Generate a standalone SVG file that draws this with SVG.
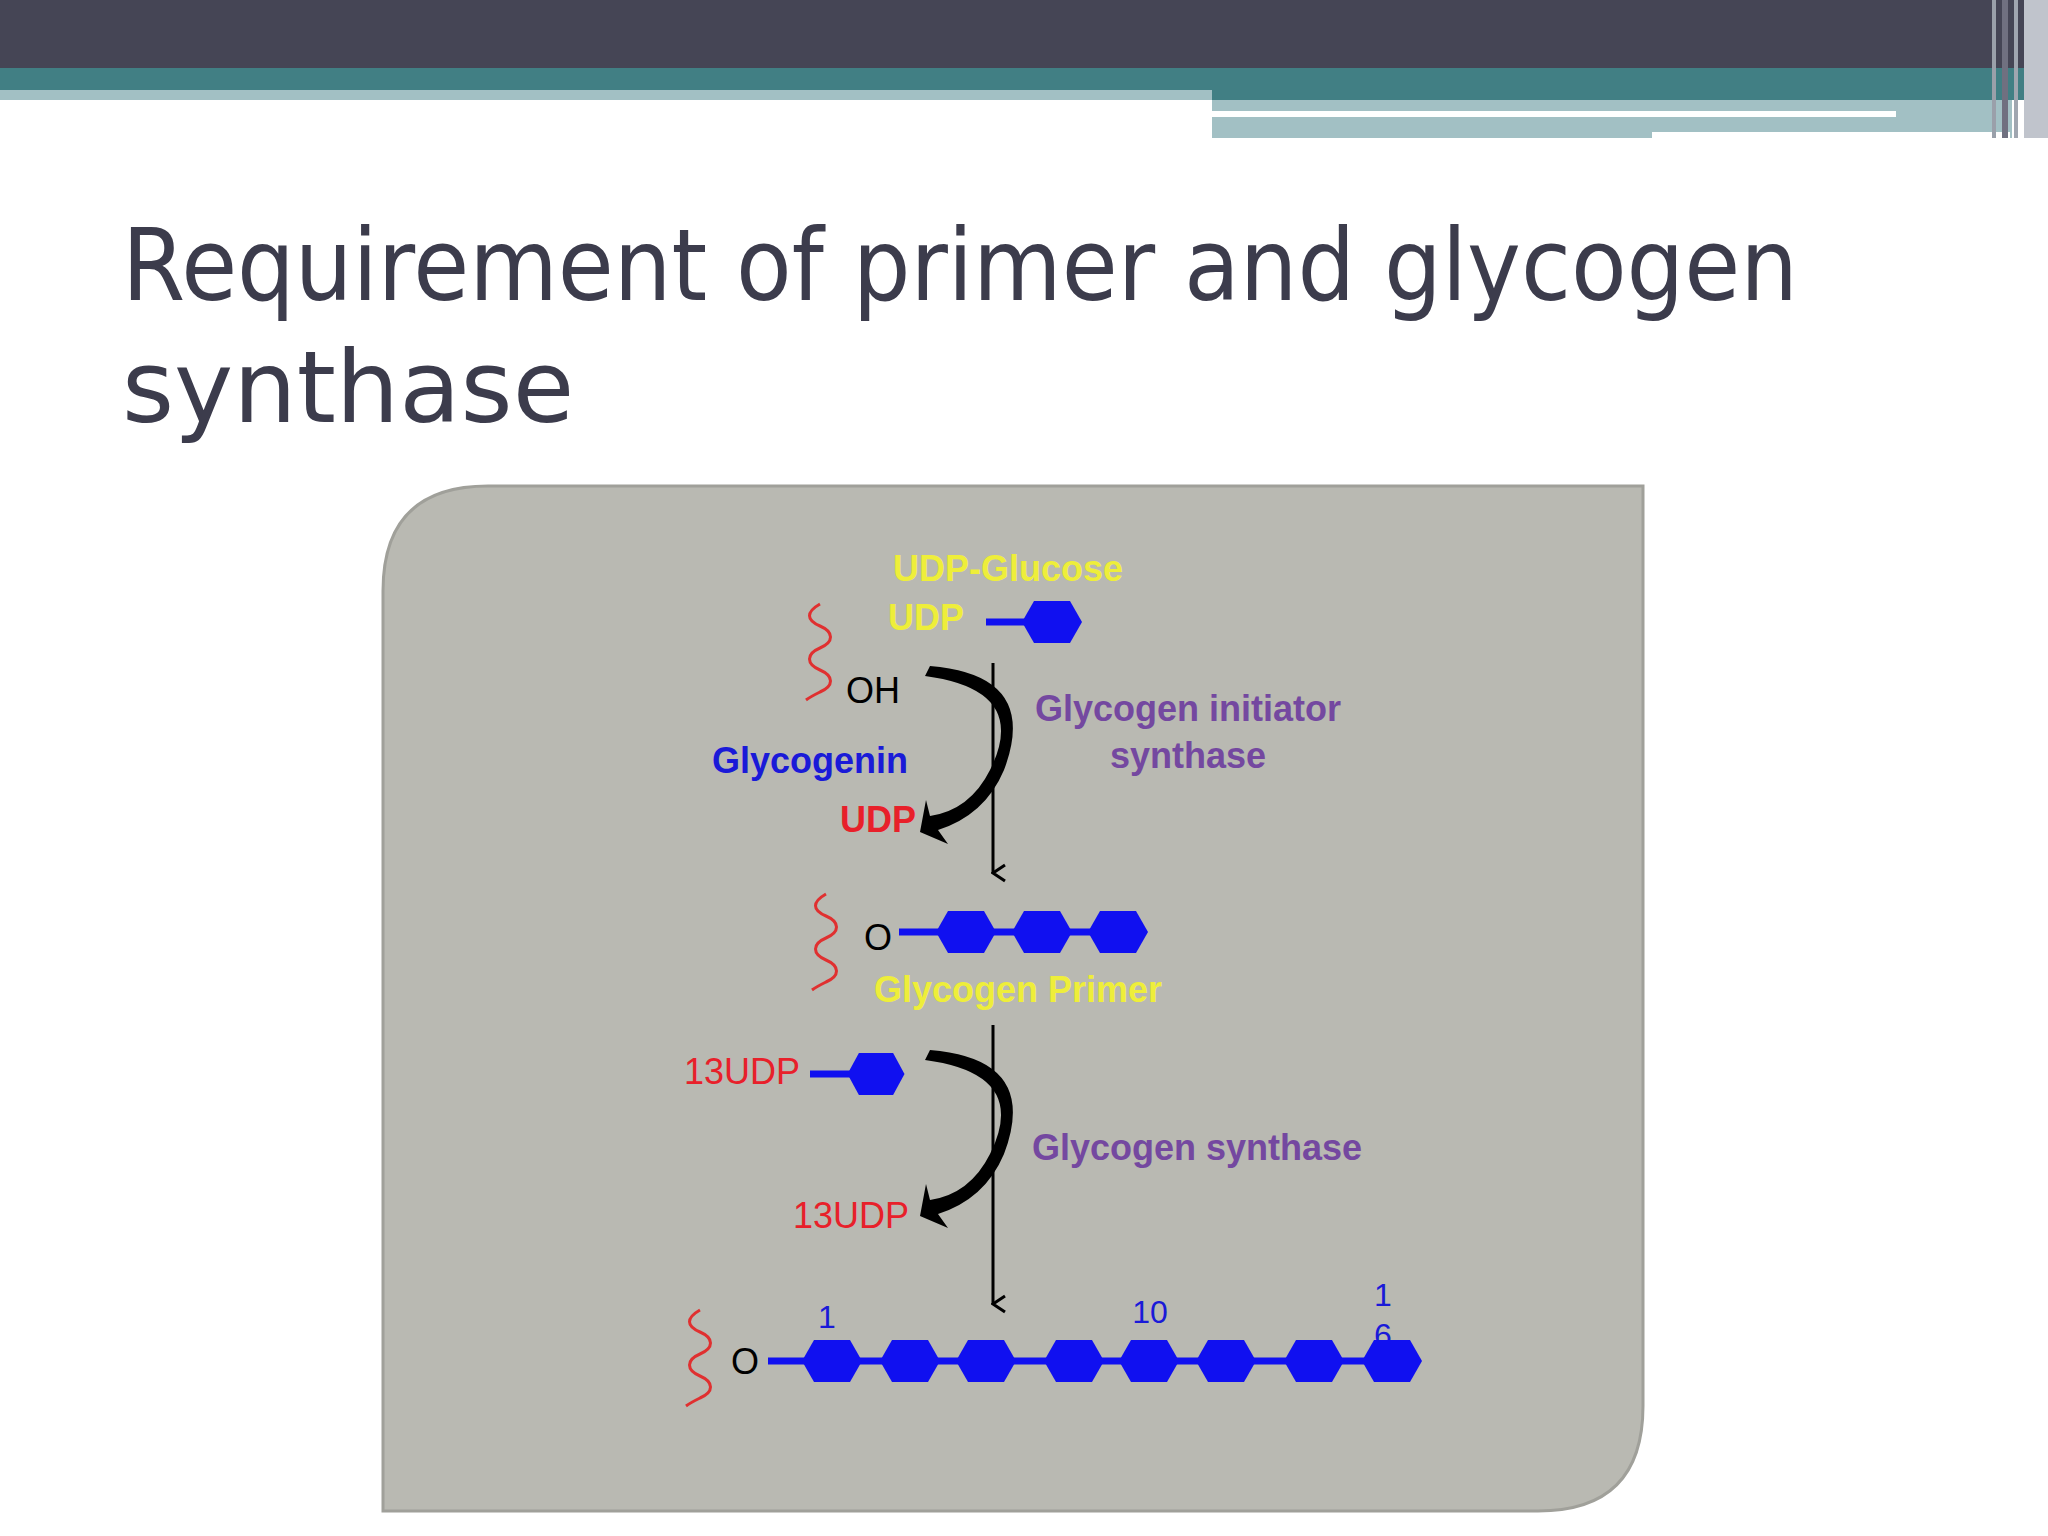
<svg xmlns="http://www.w3.org/2000/svg" width="2048" height="1536" viewBox="0 0 2048 1536">
<defs>
<style>
.t{font-family:"Liberation Sans",Arial,sans-serif}
.b{font-weight:bold}
.y{fill:#eeee3a}
.p{fill:#7448a0}
.r{fill:#e8202a}
.bl{fill:#1a1ad8}
.sq{fill:none;stroke:#e03030;stroke-width:3}
.ch{stroke:#1010f0;stroke-width:7;fill:none}
.hx{fill:#1010f0}
</style>
<marker id="ah" viewBox="0 0 20 20" refX="10" refY="18" markerWidth="20" markerHeight="20" markerUnits="userSpaceOnUse" orient="auto-start-reverse">
<path d="M2,6 L10,18 L18,6" fill="none" stroke="#000" stroke-width="3"/>
</marker>
<polygon id="hex" points="-30,0 -18,-21 18,-21 30,0 18,21 -18,21"/>
<path id="wig" d="M0,0 c-14,8 -14,16 0,22 c14,6 14,16 0,22 c-14,6 -14,16 0,22 c14,6 14,16 0,22 c-6,3 -10,5 -14,8"/>
</defs>
<rect width="2048" height="1536" fill="#ffffff"/>
<g id="header">
<rect x="0" y="0" width="2048" height="68" fill="#454555"/>
<rect x="0" y="68" width="2048" height="32" fill="#417f84"/>
<rect x="0" y="90" width="1212" height="10" fill="#a2c0c4"/>
<rect x="1212" y="100" width="800" height="38" fill="#a2c0c4"/>
<rect x="1212" y="111" width="684" height="6" fill="#ffffff"/>
<rect x="1652" y="132" width="358" height="8" fill="#ffffff"/>
<rect x="1992" y="0" width="4" height="138" fill="#9aa0aa"/>
<rect x="2002" y="0" width="6" height="138" fill="#707080"/>
<rect x="2014" y="0" width="4" height="138" fill="#a0a6b0"/>
<rect x="2024" y="0" width="24" height="138" fill="#c0c4cc"/>
</g>
<g id="title" class="t" fill="#3c3c4c" font-size="100" style="font-family:'DejaVu Sans','Open Sans',sans-serif">
<text x="122" y="300" textLength="1676" lengthAdjust="spacingAndGlyphs">Requirement of primer and glycogen</text>
<text x="122" y="422">synthase</text>
</g>
<g id="panel">
<path d="M488,486 H1643 V1406 Q1643,1511 1538,1511 H383 V591 Q383,486 488,486 Z" fill="#b9b9b2" stroke="#a0a09a" stroke-width="3"/>
</g>
<g id="connectors">
<line x1="993" y1="663" x2="993" y2="873" stroke="#000" stroke-width="3" marker-end="url(#ah)"/>
<line x1="993" y1="1025" x2="993" y2="1304" stroke="#000" stroke-width="3" marker-end="url(#ah)"/>
<path d="M925,676 Q1030,690 990,770 Q970,810 930,816 L926,800 L920,832 L948,844 L938,830 Q985,815 1004,770 Q1040,675 930,666 Z" fill="#000"/>
<path d="M925,1060 Q1030,1074 990,1154 Q970,1194 930,1200 L926,1184 L920,1216 L948,1228 L938,1214 Q985,1199 1004,1154 Q1040,1059 930,1050 Z" fill="#000"/>
</g>
<g id="step1" class="t">
<text x="1008" y="581" class="y b" font-size="36" text-anchor="middle">UDP-Glucose</text>
<text x="888" y="630" class="y b" font-size="36">UDP</text>
<line x1="986" y1="622" x2="1030" y2="622" class="ch"/>
<use href="#hex" x="1052" y="622" class="hx"/>
<use href="#wig" x="820" y="604" class="sq"/>
<text x="846" y="703" font-size="36" fill="#000">OH</text>
<text x="712" y="773" class="bl b" font-size="36">Glycogenin</text>
<text x="840" y="832" class="r b" font-size="36">UDP</text>
<text x="1188" y="721" class="p b" font-size="36" text-anchor="middle">Glycogen initiator</text>
<text x="1188" y="768" class="p b" font-size="36" text-anchor="middle">synthase</text>
</g>
<g id="primer" class="t">
<use href="#wig" x="826" y="894" class="sq"/>
<text x="864" y="950" font-size="36" fill="#000">O</text>
<line x1="899" y1="932" x2="1120" y2="932" class="ch"/>
<use href="#hex" x="966" y="932" class="hx"/>
<use href="#hex" x="1042" y="932" class="hx"/>
<use href="#hex" x="1118" y="932" class="hx"/>
<text x="874" y="1002" class="y b" font-size="36">Glycogen Primer</text>
</g>
<g id="step2" class="t">
<text x="684" y="1084" class="r" font-size="36">13UDP</text>
<line x1="810" y1="1074" x2="860" y2="1074" class="ch"/>
<use href="#hex" x="876" y="1074" class="hx" transform="translate(876 1074) scale(0.95 1) translate(-876 -1074)"/>
<text x="793" y="1228" class="r" font-size="36">13UDP</text>
<text x="1032" y="1160" class="p b" font-size="36">Glycogen synthase</text>
</g>
<g id="chain" class="t">
<use href="#wig" x="700" y="1310" class="sq"/>
<text x="731" y="1374" font-size="36" fill="#000">O</text>
<line x1="768" y1="1361" x2="1400" y2="1361" class="ch"/>
<text x="827" y="1328" class="bl" font-size="32" text-anchor="middle">1</text>
<text x="1150" y="1323" class="bl" font-size="32" text-anchor="middle">10</text>
<text x="1383" y="1306" class="bl" font-size="32" text-anchor="middle">1</text>
<text x="1383" y="1346" class="bl" font-size="32" text-anchor="middle">6</text>
<use href="#hex" x="832" y="1361" class="hx"/>
<use href="#hex" x="910" y="1361" class="hx"/>
<use href="#hex" x="986" y="1361" class="hx"/>
<use href="#hex" x="1074" y="1361" class="hx"/>
<use href="#hex" x="1149" y="1361" class="hx"/>
<use href="#hex" x="1226" y="1361" class="hx"/>
<use href="#hex" x="1314" y="1361" class="hx"/>
<use href="#hex" x="1392" y="1361" class="hx"/>
</g>
</svg>
